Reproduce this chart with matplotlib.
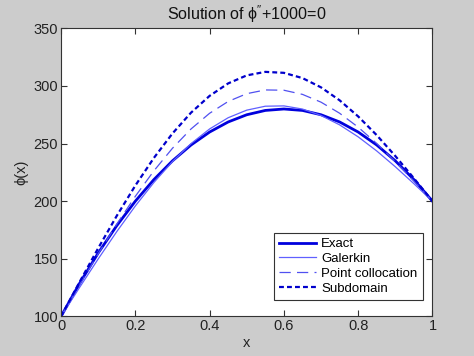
import matplotlib
matplotlib.use("Agg")
import matplotlib.pyplot as plt

x = [0.0, 0.05, 0.1, 0.15, 0.2, 0.25, 0.3, 0.35, 0.4, 0.45, 0.5,
     0.55, 0.6, 0.65, 0.7, 0.75, 0.8, 0.85, 0.9, 0.95, 1.0]
exact = [100, 128.75, 155, 178.75, 200, 218.75, 235, 248.75, 260, 268.75, 275,
         278.75, 280, 278.75, 275, 268.75, 260, 248.75, 235, 218.75, 200]
galerkin = [100, 125.18, 149.87, 173.57, 195.83, 216.22, 234.37, 249.95, 262.69, 272.42, 279.01,
            282.42, 282.69, 279.95, 274.37, 266.22, 255.83, 243.57, 229.87, 215.18, 200]
collocation = [100, 127.42, 154.28, 180.05, 204.22, 226.32, 245.92, 262.67, 276.28, 286.53, 293.29,
               296.53, 296.28, 292.67, 285.92, 276.32, 264.22, 250.05, 234.28, 217.42, 200]
subdomain = [100, 129.90, 159.18, 187.26, 213.55, 237.54, 258.76, 276.81, 291.37, 302.20, 309.16,
             312.20, 311.37, 306.81, 298.76, 287.54, 273.55, 257.26, 239.18, 219.90, 200]
labels = ["Exact", "Galerkin", "Point collocation", "Subdomain"]
xticks = [0, 0.2, 0.4, 0.6, 0.8, 1]
xticklabels = ["0", "0.2", "0.4", "0.6", "0.8", "1"]
yticks = [100, 150, 200, 250, 300, 350]

plt.rcParams['font.family'] = ['Liberation Sans', 'DejaVu Sans']
plt.rcParams['font.size'] = 10.5
plt.rcParams['mathtext.fontset'] = 'custom'
plt.rcParams['mathtext.rm'] = 'Liberation Sans'
plt.rcParams['mathtext.it'] = 'Liberation Sans'
plt.rcParams['mathtext.sf'] = 'Liberation Sans'

fig = plt.figure(figsize=(4.74, 3.56), dpi=100, facecolor='#cccccc')
ax = fig.add_axes([0.1287, 0.111, 0.7837, 0.8095])
ax.set_facecolor('white')

ax.plot(x, exact, color='#0000dd', lw=2.0, label=labels[0])
ax.plot(x, galerkin, color='#6060ff', lw=0.9, label=labels[1])
ax.plot(x, collocation, color='#5050f0', lw=0.9, dashes=(9, 5), label=labels[2])
ax.plot(x, subdomain, color='#0000cc', lw=1.6, dashes=(2.2, 1.4), label=labels[3])

ax.set_xlim(0, 1)
ax.set_ylim(100, 350)
ax.set_xticks(xticks)
ax.set_xticklabels(xticklabels)
ax.set_yticks(yticks)
ax.tick_params(direction='in', top=True, right=True, length=4, width=0.8,
               colors='#333333', labelcolor='#222222', pad=2)
for s in ax.spines.values():
    s.set_color('#333333')
    s.set_linewidth(0.8)

ax.set_title("Solution of \u03d5$^{\\prime\\prime}$+1000=0", fontsize=11.6, pad=6, color='#111111')
ax.set_xlabel("x", labelpad=2, color='#222222')
ax.set_ylabel("\u03d5(x)", labelpad=4, color='#222222')

leg = ax.legend(loc='lower right', bbox_to_anchor=(0.974, 0.057), borderaxespad=0,
                fancybox=False, edgecolor='#333333', framealpha=1, handlelength=2.8,
                handletextpad=0.4, labelspacing=0.2, borderpad=0.4, fontsize=9.5)
leg.get_frame().set_linewidth(0.8)

fig.savefig("out.png", dpi=100, facecolor=fig.get_facecolor())
